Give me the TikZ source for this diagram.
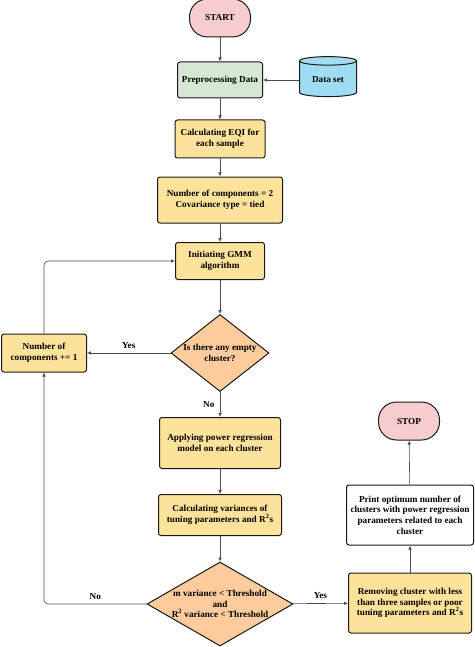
\documentclass[tikz,border=0pt]{standalone}
\usepackage{fontspec}
\setmainfont{Liberation Serif}
\usetikzlibrary{shapes.geometric,arrows.meta}

\definecolor{termpink}{RGB}{247,204,206}
\definecolor{prepgreen}{RGB}{214,232,211}
\definecolor{boxyellow}{RGB}{253,226,155}
\definecolor{decorange}{RGB}{253,203,156}
\definecolor{dbblue}{RGB}{160,221,242}

\begin{document}
\begin{tikzpicture}
        [x=1pt,y=-1pt,
         font=\fontsize{9.2}{10.6}\selectfont\bfseries,
         box/.style={draw=black!90,line width=1pt,rounded corners=2.5pt,fill=boxyellow,align=center,inner sep=1pt},
         terminal/.style={draw=black!90,line width=1pt,rounded corners=18pt,fill=termpink,minimum width=61pt,minimum height=38pt},
         decision/.style={diamond,draw=black!90,line width=1pt,fill=decorange,inner sep=0pt},
         flow/.style={draw=black!70,line width=0.6pt,-{Latex[length=4pt,width=3.5pt]}}]
        \useasboundingbox (0,0) rectangle (474,647);

        \node[terminal] (start) at (220,18) {START};
        \node[box,fill=prepgreen,minimum width=85pt,minimum height=36pt] (prep) at (220,80) {Preprocessing Data};
        \node[cylinder,shape border rotate=90,aspect=0.22,draw=black!90,line width=1pt,fill=dbblue,
              minimum width=57pt,minimum height=40pt] (data) at (328,80) {Data set};
        \node[box,minimum width=90pt,minimum height=38pt] (eqi) at (220,139) {Calculating EQI for\\each sample};
        \node[box,minimum width=125pt,minimum height=46pt] (ncomp) at (220,200) {Number of components = 2\\Covariance type = tied};
        \node[box,minimum width=89pt,minimum height=37pt] (gmm) at (220,261) {Initiating GMM\\algorithm};
        \node[decision,minimum width=98pt,minimum height=77pt,
              label={[align=center]center:Is there any empty\\cluster?}] (empty) at (220,353) {};
        \node[box,minimum width=85pt,minimum height=38pt] (inc) at (44,353) {Number of\\components += 1};
        \node[box,minimum width=121pt,minimum height=51pt] (power) at (220,443) {Applying power regression\\model on each cluster};
        \node[box,minimum width=123pt,minimum height=41pt] (var) at (220,515) {Calculating variances of\\tuning parameters and R\textsuperscript{2}s};
        \node[decision,minimum width=146pt,minimum height=84pt,
              label={[align=center]center:m variance < Threshold\\and\\R\textsuperscript{2} variance < Threshold}] (thresh) at (220,604) {};
        \node[box,minimum width=123pt,minimum height=60pt] (remove) at (410,603) {Removing cluster with less\\than three samples or poor\\tuning parameters and R\textsuperscript{2}s};
        \node[box,fill=white,minimum width=127pt,minimum height=60pt] (print) at (410,515) {Print optimum number of\\clusters with power regression\\parameters related to each\\cluster};
        \node[terminal] (stop) at (409,421) {STOP};

        \draw[flow] (start) -- (prep);
        \draw[flow] (data) -- (prep);
        \draw[flow] (prep) -- (eqi);
        \draw[flow] (eqi) -- (ncomp);
        \draw[flow] (ncomp) -- (gmm);
        \draw[flow] (gmm) -- (empty);
        \draw[flow] (empty) -- node[above=1pt] {Yes} (inc);
        \draw[flow,rounded corners=4pt] (inc.north) |- (gmm.west);
        \draw[flow] (empty) -- node[left=2pt] {No} (power);
        \draw[flow] (power) -- (var);
        \draw[flow] (var) -- (thresh);
        \draw[flow,rounded corners=4pt] (thresh.west) -| node[pos=0.25,above=1pt] {No} (inc.south);
        \draw[flow] (thresh) -- node[above=1pt] {Yes} (remove);
        \draw[flow] (remove) -- (print);
        \draw[flow] (print) -- (stop);
      \end{tikzpicture}
\end{document}
